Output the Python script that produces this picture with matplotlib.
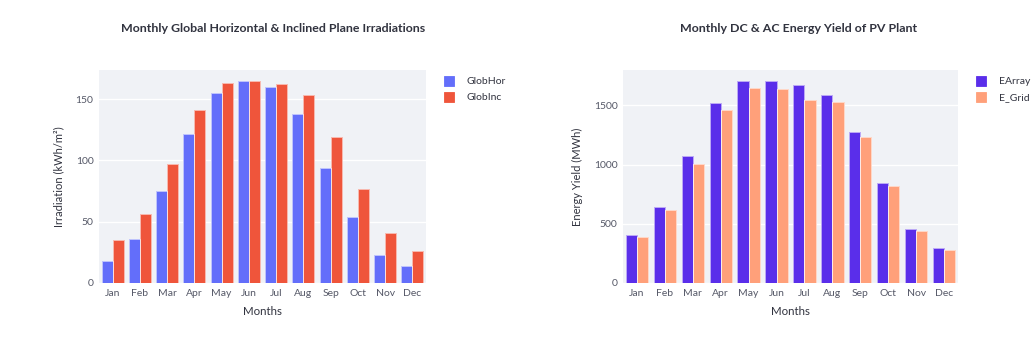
import matplotlib
matplotlib.use("Agg")
import matplotlib.pyplot as plt
import numpy as np

months = ["Jan", "Feb", "Mar", "Apr", "May", "Jun", "Jul", "Aug", "Sep", "Oct", "Nov", "Dec"]
glob_hor = [18.0, 35.8, 74.9, 121.3, 155.2, 164.7, 159.6, 138.2, 94.0, 54.1, 22.7, 13.7]
glob_inc = [34.7, 56.6, 97.3, 141.5, 162.8, 165.0, 162.6, 153.5, 119.4, 76.5, 40.7, 25.7]
e_array = [402, 645, 1075, 1520, 1709, 1704, 1673, 1588, 1276, 846, 456, 294]
e_grid = [385, 617, 1002, 1463, 1650, 1641, 1548, 1531, 1231, 818, 441, 283]

plt.rcParams['font.family'] = ['Lato', 'DejaVu Sans']

BG = '#F0F2F6'
TXT = '#31333F'
TICK = '#555867'

fig = plt.figure(figsize=(10.35, 3.58), dpi=100)
fig.patch.set_facecolor('white')

def panel(rect, s1, s2, c1, c2, n1, n2, ylabel, yticks, title, title_x, leg_x):
    ax = fig.add_axes(rect)
    ax.set_facecolor(BG)
    x = np.arange(len(months))
    w = 0.4
    ax.bar(x - w / 2, s1, w, color=c1, edgecolor=c1, linewidth=0.6, label=n1, zorder=3)
    ax.bar(x + w / 2, s2, w, color=c2, edgecolor=c2, linewidth=0.6, label=n2, zorder=3)
    ax.bar(x - w / 2, s1, w, color='none', edgecolor='white', linewidth=0.4, zorder=4)
    ax.bar(x + w / 2, s2, w, color='none', edgecolor='white', linewidth=0.4, zorder=4)
    ax.set_xlim(-0.5, len(months) - 0.5)
    top = max(max(s1), max(s2)) * 1.053
    ax.set_ylim(0, top)
    ax.set_yticks(yticks)
    ax.set_xticks(x)
    ax.set_xticklabels(months)
    ax.grid(axis='y', color='white', linewidth=1.0, zorder=0)
    ax.set_axisbelow(True)
    for sp in ax.spines.values():
        sp.set_visible(False)
    ax.tick_params(axis='both', length=0, labelsize=7.5, colors=TICK, pad=4)
    ax.set_ylabel(ylabel, fontsize=8, color=TXT, labelpad=8)
    ax.set_xlabel('Months', fontsize=8.3, color=TXT, labelpad=6)
    fig.text(title_x, 1 - 28 / 358, title, ha='center', va='center',
             fontsize=8.9, fontweight='bold', color=TXT)
    ax.legend(loc='upper left', bbox_to_anchor=(leg_x, 1.0), frameon=False,
              fontsize=7.5, handlelength=1.0, handleheight=1.0, labelcolor=TXT,
              borderaxespad=0.2, handletextpad=1.2, labelspacing=0.55)
    return ax

panel([99 / 1035, 75 / 358, 327 / 1035, 213 / 358], glob_hor, glob_inc,
      '#636EFA', '#EF553B', 'GlobHor', 'GlobInc', 'Irradiation (kWh/m²)',
      [0, 50, 100, 150], 'Monthly Global Horizontal & Inclined Plane Irradiations',
      273 / 1035, 1.035)

panel([623 / 1035, 75 / 358, 335 / 1035, 213 / 358], e_array, e_grid,
      '#5A2EEA', '#FFA07A', 'EArray', 'E_Grid', 'Energy Yield (MWh)',
      [0, 500, 1000, 1500], 'Monthly DC & AC Energy Yield of PV Plant',
      799 / 1035, 1.035)

fig.savefig('out.png', dpi=100)
